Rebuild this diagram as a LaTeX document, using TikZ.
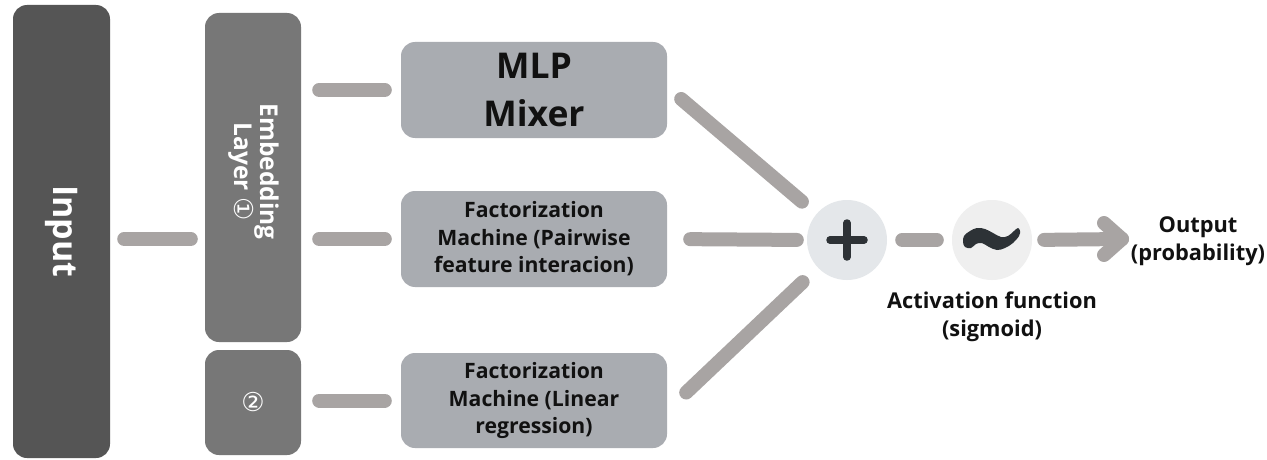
\documentclass[tikz,border=0pt]{standalone}
\usepackage{fontspec}
\setmainfont{Open Sans}
\newfontfamily\djv{DejaVu Sans}
\definecolor{inputcol}{HTML}{555555}
\definecolor{embcol}{HTML}{777777}
\definecolor{boxcol}{HTML}{A9ACB1}
\definecolor{conncol}{HTML}{A8A4A3}
\definecolor{pluscol}{HTML}{E4E7EA}
\definecolor{sigcol}{HTML}{EFEFEF}
\definecolor{signcol}{HTML}{2D3236}
\definecolor{txtcol}{HTML}{111111}
\begin{document}
\begin{tikzpicture}[x=1pt,y=-1pt,
  darkbox/.style={fill=inputcol, rounded corners=14pt, inner sep=0pt, text=white, font=\bfseries\fontsize{34}{40}\selectfont},
  embbox/.style={fill=embcol, rounded corners=14pt, inner sep=0pt, minimum width=96pt, text=white, font=\bfseries\fontsize{24.5}{29}\selectfont},
  embtext/.style={inner sep=0pt, text=white, font=\bfseries\fontsize{24.5}{29}\selectfont},
  graybox/.style={fill=boxcol, rounded corners=14pt, inner sep=0pt, minimum width=266pt, align=center, text=txtcol},
  fmtext/.style={font=\bfseries\fontsize{21.2}{27.5}\selectfont},
  mlptext/.style={font=\bfseries\fontsize{35.5}{48}\selectfont},
  conn/.style={draw=conncol, line width=14pt, line cap=round, line join=round},
  opcircle/.style={circle, inner sep=0pt, minimum size=80pt},
  signline/.style={draw=signcol, line width=7.5pt, line cap=round},
  lbl/.style={align=center, text=txtcol, font=\bfseries\fontsize{21.8}{28}\selectfont}
]
\useasboundingbox (0,0) rectangle (1267,460);
\fill[white] (0,0) rectangle (1267,460);

% boxes
\node[darkbox, minimum width=97pt, minimum height=453pt] (input) at (61.5,231.5) {\rotatebox{-90}{Input}};
\node[embbox, minimum height=329pt] (emb) at (253,177.5) {};
\node[embtext] (embtxt) at ([shift={(0,-6)}]emb.center) {\rotatebox{-90}{\begin{tabular}{@{}c@{}}Embedding\\[-3pt]Layer {\djv\mdseries\fontsize{26}{26}\selectfont ①}\end{tabular}}};
\node[embbox, minimum height=105pt] (box2) at (253,402.5) {{\djv\mdseries\fontsize{26}{26}\selectfont ②}};
\node[graybox, minimum height=96pt, mlptext] (mlp) at (534,90) {MLP\\Mixer};
\node[graybox, minimum height=96pt, fmtext] (fm1) at (534,239) {Factorization\\Machine (Pairwise\\feature interacion)};
\node[graybox, minimum height=95pt, fmtext] (fm2) at (534,400.5) {Factorization\\Machine (Linear\\regression)};

% operators
\node[opcircle, fill=pluscol] (plus) at (847,240) {};
\node[opcircle, fill=sigcol] (sig) at (992,240) {};
\draw[signline] ([shift={(-17,0)}]plus.center) -- ([shift={(17,0)}]plus.center);
\draw[signline] ([shift={(0,-17)}]plus.center) -- ([shift={(0,17)}]plus.center);
\fill[signcol, shift={(sig.center)}] plot[smooth cycle, tension=0.6] coordinates {
  (-28,-4) (-22,-9) (-15,-12) (-7,-11) (1,-7) (9,-3) (16,-4) (22,-9) (26,-12)
  (28,-9) (27,-4) (21,3) (13,8) (5,10) (-3,7) (-10,3) (-16,4) (-21,8) (-27,7) (-29,2)};

% labels
\node[lbl] (actlbl) at (992,317) {Activation function\\(sigmoid)};
\node[lbl] (outlbl) at (1198,241) {Output\\(probability)};
\coordinate (tip) at (1122,239);

% connectors
\draw[conn, shorten <=14pt, shorten >=14pt] (input.east |- fm1.west) -- (emb.west |- fm1.west);
\draw[conn, shorten <=18pt, shorten >=16pt] (emb.east |- mlp.west) -- (mlp.west);
\draw[conn, shorten <=18pt, shorten >=16pt] (emb.east |- fm1.west) -- (fm1.west);
\draw[conn, shorten <=18pt, shorten >=16pt] (box2.east |- fm2.west) -- (fm2.west);
\draw[conn, shorten >=19pt] ([shift={(14,9)}]mlp.east) -- (plus);
\draw[conn, shorten <=23pt, shorten >=10pt] (fm1.east) -- (plus.west);
\draw[conn, shorten >=21pt] ([shift={(19,-8)}]fm2.east) -- (plus);
\draw[conn, shorten <=15pt, shorten >=15pt] (plus.east) -- (sig.west);
\draw[conn, shorten <=12pt] (sig.east) -- (tip);
\draw[conn] ([shift={(-18,-16)}]tip) -- (tip) -- ([shift={(-18,16)}]tip);
\end{tikzpicture}
\end{document}
